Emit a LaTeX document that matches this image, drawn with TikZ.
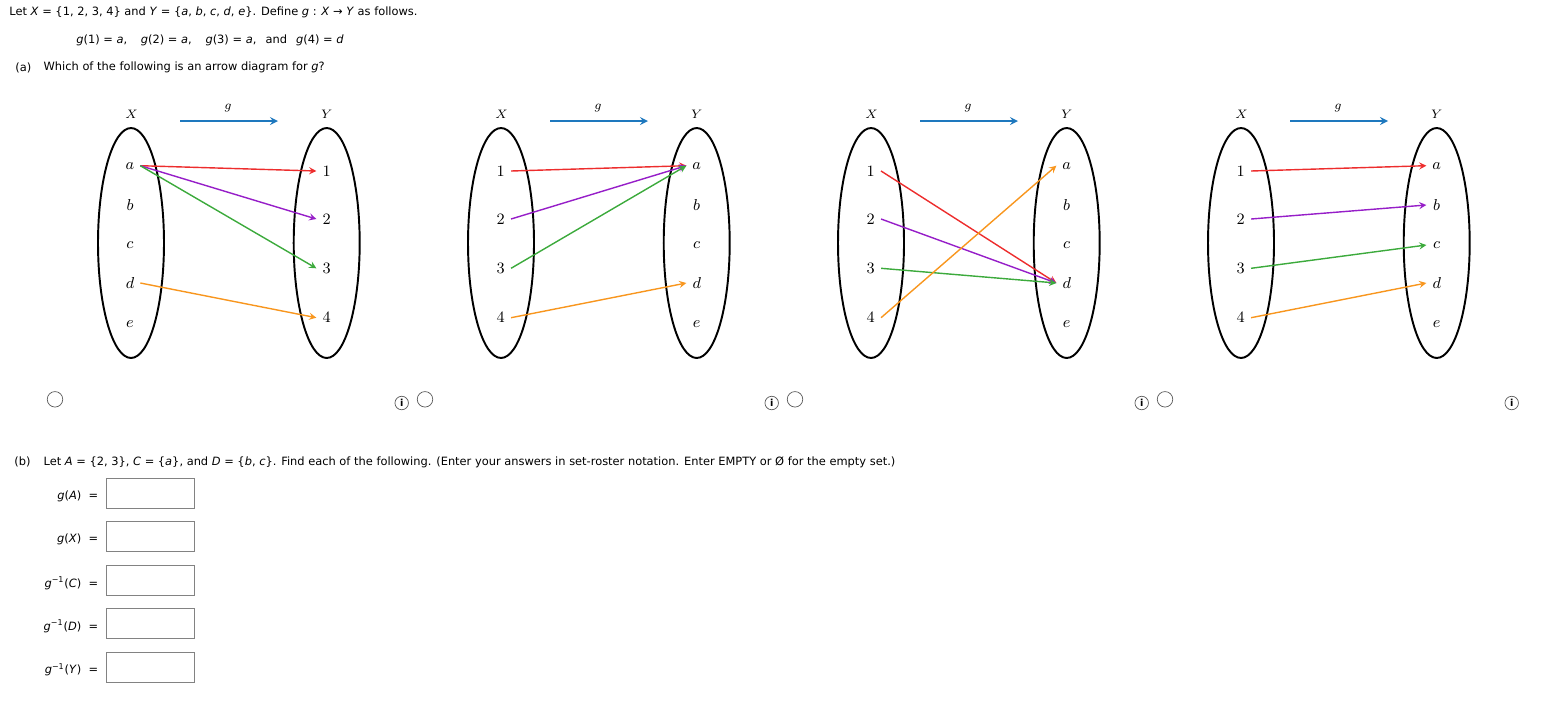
\documentclass[tikz,border=0pt]{standalone}
\usepackage{fontspec}
\setmainfont{DejaVu Sans}
\usepackage{tikz}
\usetikzlibrary{shapes.geometric, arrows, positioning, calc}

\definecolor{mapred}{RGB}{237,45,45}
\definecolor{mappurple}{RGB}{150,30,200}
\definecolor{mapgreen}{RGB}{60,170,60}
\definecolor{maporange}{RGB}{248,150,30}
\definecolor{mapblue}{RGB}{30,120,190}
\definecolor{radiogray}{RGB}{90,90,90}
\definecolor{boxgray}{RGB}{130,130,130}

\begin{document}
\begin{tikzpicture}[
    x=0.02cm, y=-0.02cm,
    txt/.style={anchor=west, inner sep=0pt, font=\fontsize{6.5}{7.8}\selectfont},
    lbl/.style={anchor=east, inner sep=0pt, font=\fontsize{6.5}{7.8}\selectfont},
    setbox/.style={ellipse, draw, line width=1.1pt, minimum width=1.32cm, minimum height=4.6cm, inner sep=0pt},
    setname/.style={inner sep=0pt, font=\fontsize{7.5}{9}\selectfont},
    elem/.style={minimum width=0.4cm, inner sep=0pt, font=\fontsize{9}{11}\selectfont},
    gmap/.style={->, >=stealth, line width=1pt, draw=mapblue},
    arrow/.style={->, >=stealth, line width=0.8pt},
    radio/.style={circle, draw=radiogray, line width=0.4pt, minimum size=0.31cm, inner sep=0pt},
    info/.style={circle, draw=radiogray, line width=0.4pt, minimum size=0.27cm, inner sep=0pt, font=\fontsize{5.5}{6}\selectfont},
    answer/.style={rectangle, draw=boxgray, line width=0.6pt, minimum width=1.76cm, minimum height=0.6cm, inner sep=0pt}
]
\useasboundingbox (0,0) rectangle (1541,708);

% question text
\node[txt] (intro) at (9,12.7) {Let \textit{X} = \{1, 2, 3, 4\} and \textit{Y} = \{\textit{a}, \textit{b}, \textit{c}, \textit{d}, \textit{e}\}. Define \textit{g} : \textit{X} → \textit{Y} as follows.};
\node[txt] (values) at (76,40) {\textit{g}(1) = \textit{a},\hspace{1.2em}\textit{g}(2) = \textit{a},\hspace{1.2em}\textit{g}(3) = \textit{a},\hspace{0.8em}and\hspace{0.8em}\textit{g}(4) = \textit{d}};
\node[txt] (parta) at (15,67.7) {(a)};
\node[txt] (qa) at (43.3,67.7) {Which of the following is an arrow diagram for \textit{g}?};

% the four diagrams
\foreach \k/\dx in {1/0, 2/370, 3/740, 4/1110} {
  \begin{scope}[shift={(\dx,0)}]
    \node[setbox] (L\k) at (131,243) {};
    \node[setbox] (R\k) at (326.7,243) {};
    \node[setname] (X\k) at (131.7,114.3) {$X$};
    \node[setname] (Y\k) at (326.7,114.3) {$Y$};
    \node[setname] (g\k) at (228,107.7) {$g$};
    \coordinate (gs\k) at (180,121);
    \coordinate (ge\k) at (278,121);
    \draw[gmap] (gs\k) -- (ge\k);
    \node[radio] (radio\k) at (55,399.3) {};
    \node[info] (info\k) at (401.7,403) {$\mathbf{i}$};
  \end{scope}
}

% diagram 1: letters left, numbers right
\foreach \l/\y in {a/165.7, b/205, c/245, d/283, e/324.3}
  \node[elem] (q1\l) at (130,\y) {$\l$};
\foreach \n/\y in {1/171, 2/219, 3/268.3, 4/317.7}
  \node[elem] (p1\n) at (326.7,\y) {$\n$};

% diagrams 2 to 4: numbers left, letters right
\foreach \k/\dx in {2/370, 3/740, 4/1110} {
  \foreach \n/\y in {1/171, 2/219, 3/268.3, 4/317.7}
    \node[elem] (p\k\n) at (130.7+\dx,\y) {$\n$};
  \foreach \l/\y in {a/165.7, b/205, c/245, d/283, e/324.3}
    \node[elem] (q\k\l) at (326.7+\dx,\y) {$\l$};
}

\draw[arrow, mapred] (q1a.east) -- (p11.west);
\draw[arrow, mappurple] (q1a.east) -- (p12.west);
\draw[arrow, mapgreen] (q1a.east) -- (p13.west);
\draw[arrow, maporange] (q1d.east) -- (p14.west);

\draw[arrow, mapred] (p21.east) -- (q2a.west);
\draw[arrow, mappurple] (p22.east) -- (q2a.west);
\draw[arrow, mapgreen] (p23.east) -- (q2a.west);
\draw[arrow, maporange] (p24.east) -- (q2d.west);

\draw[arrow, mapred] (p31.east) -- (q3d.west);
\draw[arrow, mappurple] (p32.east) -- (q3d.west);
\draw[arrow, mapgreen] (p33.east) -- (q3d.west);
\draw[arrow, maporange] (p34.east) -- (q3a.west);

\draw[arrow, mapred] (p41.east) -- (q4a.west);
\draw[arrow, mappurple] (p42.east) -- (q4b.west);
\draw[arrow, mapgreen] (p43.east) -- (q4c.west);
\draw[arrow, maporange] (p44.east) -- (q4d.west);

% part (b)
\node[txt] (partb) at (14,462) {(b)};
\node[txt] (qb) at (43.3,462) {Let \textit{A} = \{2, 3\}, \textit{C} = \{\textit{a}\}, and \textit{D} = \{\textit{b}, \textit{c}\}. Find each of the following. (Enter your answers in set-roster notation. Enter EMPTY or Ø for the empty set.)};

\node[answer] (boxgA) at (150.5,493.3) {};
\node[answer] (boxgX) at (150.5,536.7) {};
\node[answer] (boxiC) at (150.5,580.7) {};
\node[answer] (boxiD) at (150.5,623.8) {};
\node[answer] (boxiY) at (150.5,667.3) {};

\node[lbl] (lblgA) at (98.5,496) {\textit{g}(\textit{A})\ \ =};
\node[lbl] (lblgX) at (98.5,539.3) {\textit{g}(\textit{X})\ \ =};
\node[lbl] (lbliC) at (98.5,583.3) {\textit{g}\textsuperscript{−1}(\textit{C})\ \ =};
\node[lbl] (lbliD) at (98.5,626.4) {\textit{g}\textsuperscript{−1}(\textit{D})\ \ =};
\node[lbl] (lbliY) at (98.5,669.9) {\textit{g}\textsuperscript{−1}(\textit{Y})\ \ =};

\end{tikzpicture}
\end{document}
